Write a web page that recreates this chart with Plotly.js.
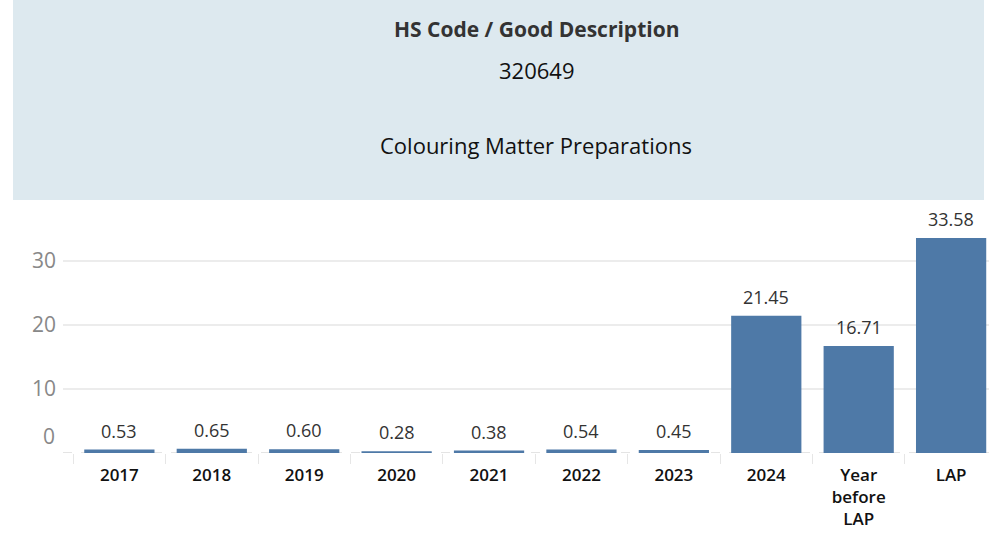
<!DOCTYPE html>
<html>
<head>
<meta charset="utf-8">
<script src="https://cdn.plot.ly/plotly-3.0.1.min.js"></script>
<style>html,body{margin:0;padding:0;background:#fff;}#chart{width:989px;height:533px;}</style>
</head>
<body>
<div id="chart"></div>
<script>
const categories = ["2017","2018","2019","2020","2021","2022","2023","2024","Year before LAP","LAP"];
const tickLabels = ["2017","2018","2019","2020","2021","2022","2023","2024","Year<br>before<br>LAP","LAP"];
const values = [0.53,0.65,0.60,0.28,0.38,0.54,0.45,21.45,16.71,33.58];
const yTicks = [10,20,30];
const headerLines = ["HS Code / Good Description","320649","Colouring Matter Preparations"];

const W = 989, H = 533;
const M = {l:63, r:0, t:205, b:80};
const pw = W - M.l - M.r, ph = H - M.t - M.b;
const px = x => (x - M.l) / pw;
const py = y => (H - M.b - y) / ph;

const font = "'Open Sans', 'Noto Sans', sans-serif";

const annotations = values.map((v, i) => ({
  x: i, y: v, xref: 'x', yref: 'y',
  text: v.toFixed(2), showarrow: false, yanchor: 'bottom', yshift: 5,
  font: {family: font, size: 18, color: '#333'}
}));
annotations.push({x: 0, y: 0, xref: 'paper', yref: 'y', xanchor: 'right', xshift: -6, yshift: 17,
  text: '0', showarrow: false, font: {family: font, size: 21, color: '#888'}});
const headerY = [29, 70, 145];
headerLines.forEach((t, i) => annotations.push({
  x: px(536), y: py(headerY[i]), xref: 'paper', yref: 'paper', showarrow: false,
  xanchor: 'center', yanchor: 'middle', text: i === 0 ? '<b>' + t + '</b>' : t,
  font: {family: font, size: i === 0 ? 21 : 22, color: i === 0 ? '#333' : '#111'}
}));

const data = [{
  type: 'bar', x: categories, y: values, marker: {color: '#4e79a7'}, width: 0.76,
  hoverinfo: 'skip'
}];

const layout = {
  width: W, height: H, margin: M, paper_bgcolor: '#fff', plot_bgcolor: '#fff',
  showlegend: false,
  xaxis: {
    type: 'category', range: [-0.61, 9.41], tickmode: 'array', tickvals: categories, ticktext: tickLabels,
    ticks: 'outside', tickson: 'boundaries', ticklen: 10, tickcolor: '#e6e6e6', tickwidth: 1,
    showgrid: false, zeroline: false, showline: false, ticklabelstandoff: 10,
    tickfont: {family: font, size: 17, color: '#111', weight: 600}
  },
  yaxis: {
    range: [0, 38.75], tickmode: 'array', tickvals: yTicks, ticktext: yTicks.map(String),
    showgrid: true, gridcolor: '#ececec', gridwidth: 1.5, zeroline: false, showline: false,
    ticks: '', ticklabelstandoff: 6,
    tickfont: {family: font, size: 21, color: '#888'}
  },
  shapes: [
    {type: 'rect', xref: 'paper', yref: 'paper', x0: px(13), x1: px(984), y0: py(200), y1: py(0),
     fillcolor: '#dde9ef', line: {width: 0}, layer: 'below'},
    {type: 'line', xref: 'paper', yref: 'y', x0: 0, x1: 1, y0: 0, y1: 0,
     line: {color: '#c8c8c8', width: 1, dash: 'dash'}, layer: 'below'}
  ],
  annotations: annotations
};
Plotly.newPlot('chart', data, layout, {displayModeBar: false, staticPlot: true});
</script>
</body>
</html>
